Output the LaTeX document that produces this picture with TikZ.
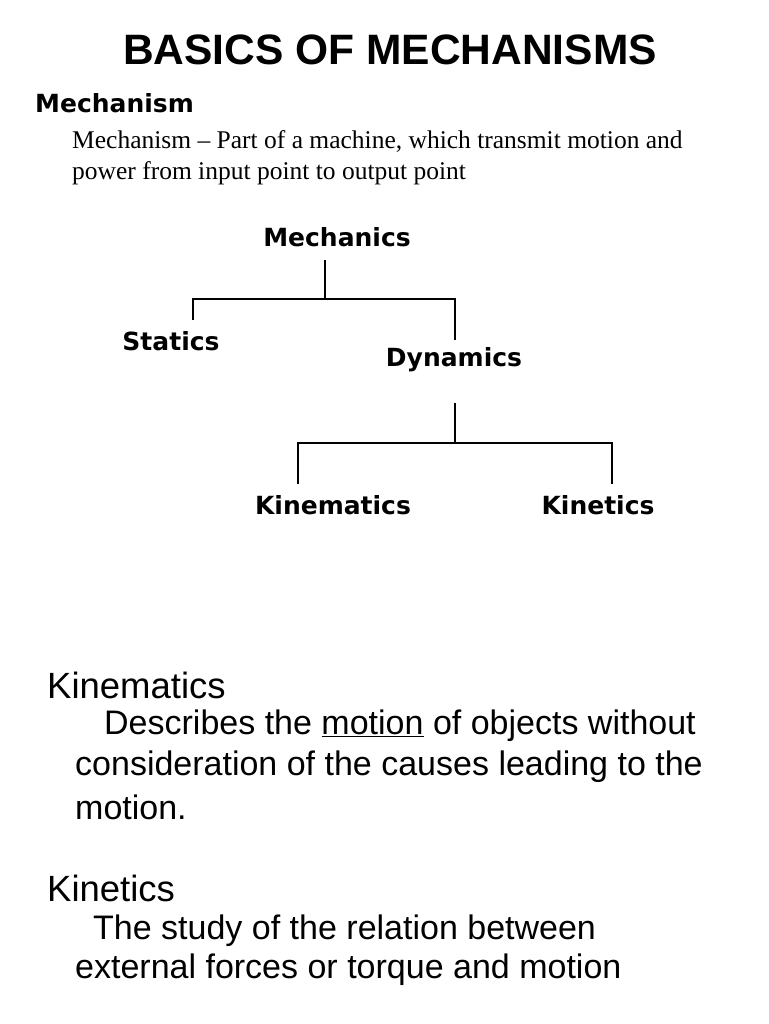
\documentclass[tikz,border=0pt]{standalone}
\usepackage{fontspec}
\setmainfont{Liberation Serif}
\newfontfamily\ars{Liberation Sans}
\newfontfamily\dvs{DejaVu Sans}
\begin{document}
\begin{tikzpicture}[x=1pt,y=-1pt,
  lbl/.style={font=\dvs\bfseries\fontsize{25}{30}\selectfont, inner sep=0pt},
  body/.style={font=\ars\fontsize{34}{40}\selectfont, inner sep=0pt, anchor=west},
  head/.style={font=\ars\fontsize{36.5}{42}\selectfont, inner sep=0pt, anchor=west},
  ser/.style={font=\fontsize{25.5}{30}\selectfont, inner sep=0pt, anchor=west},
  ln/.style={line width=1.2pt}]
\useasboundingbox (0,0) rectangle (768,1024);
\node[font=\ars\bfseries\fontsize{42.5}{50}\selectfont, inner sep=0pt] (title) at (390,50) {BASICS OF MECHANISMS};
\node[lbl, anchor=west] (mech) at (35,103) {Mechanism};
\node[ser] (d1) at (72,141) {Mechanism -- Part of a machine, which transmit motion and};
\node[ser] (d2) at (72,173) {power from input point to output point};
\node[lbl] (mc) at (337,237) {Mechanics};
\node[lbl] (st) at (171,341) {Statics};
\node[lbl] (dy) at (454,360) {Dynamics};
\node[lbl] (km) at (333,505) {Kinematics};
\node[lbl] (kt) at (598,505) {Kinetics};
\coordinate (a1) at (325,260); \coordinate (a2) at (325,299);
\coordinate (a3) at (193,299); \coordinate (a4) at (193,320);
\coordinate (a5) at (455,299); \coordinate (a6) at (455,340);
\draw[ln] (a1) -- (a2) (a4) -- (a3) -- (a5) -- (a6);
\coordinate (b1) at (455,403); \coordinate (b2) at (455,443);
\coordinate (b3) at (298,443); \coordinate (b4) at (298,484);
\coordinate (b5) at (612,443); \coordinate (b6) at (612,484);
\draw[ln] (b1) -- (b2) (b4) -- (b3) -- (b5) -- (b6);
\node[head] (h1) at (47,685) {Kinematics};
\node[body] (k1) at (104,726) {Describes the \underline{motion} of objects without};
\node[body] (k2) at (75,767) {consideration of the causes leading to the};
\node[body] (k3) at (75,807) {motion.};
\node[head] (h2) at (47,888) {Kinetics};
\node[body] (t1) at (93,931) {The study of the relation between};
\node[body] (t2) at (75,970) {external forces or torque and motion};
\end{tikzpicture}
\end{document}
